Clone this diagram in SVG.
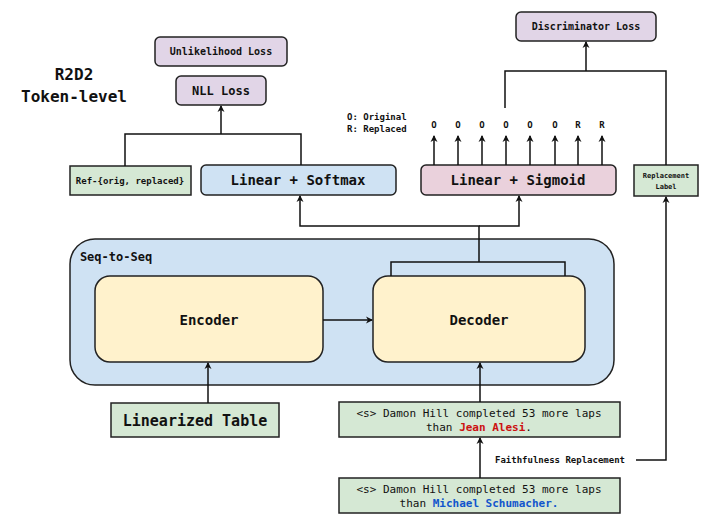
<svg xmlns="http://www.w3.org/2000/svg" width="714" height="526" viewBox="0 0 714 526">
<style>
text{font-family:"DejaVu Sans Mono","Liberation Mono",monospace;font-weight:bold;fill:#111;text-anchor:middle}
.p{fill:#e1d5e7;stroke:#222;stroke-width:1.5}
.g{fill:#d5e8d4;stroke:#222;stroke-width:1.5}
.b{fill:#cfe2f3;stroke:#222;stroke-width:1.5}
.y{fill:#fff2cc;stroke:#222;stroke-width:1.5}
.r{fill:#ead1dc;stroke:#222;stroke-width:1.5}
.l{fill:none;stroke:#111;stroke-width:1.5}
.n{font-weight:normal}
</style>
<defs><marker id="a" markerWidth="8" markerHeight="8" refX="6" refY="4" orient="auto" markerUnits="userSpaceOnUse"><path d="M0,0.5 L7,4 L0,7.5 L2,4z" fill="#111"/></marker></defs>
<rect width="714" height="526" fill="#fff"/>
<text x="74" y="80" font-size="16">R2D2</text>
<text x="74" y="102" font-size="16">Token-level</text>
<g id="seq"><rect class="b" x="70" y="239" width="544" height="146" rx="25"/><text x="116" y="261" font-size="12">Seq-to-Seq</text></g>
<g id="enc"><rect class="y" x="95" y="276" width="228" height="86" rx="15"/><text x="209" y="325" font-size="14">Encoder</text></g>
<g id="dec"><rect class="y" x="373" y="276" width="212" height="86" rx="15"/><text x="479" y="325" font-size="14">Decoder</text></g>
<g id="ul"><rect class="p" x="155" y="37" width="132" height="29" rx="5"/><text x="221" y="55" font-size="10">Unlikelihood Loss</text></g>
<g id="nll"><rect class="p" x="176" y="76" width="90" height="29" rx="5"/><text x="221" y="95" font-size="12">NLL Loss</text></g>
<g id="ref"><rect class="g" x="70" y="166" width="121" height="29"/><text x="130" y="184" font-size="9">Ref-{orig, replaced}</text></g>
<g id="soft"><rect class="b" x="201" y="165" width="195" height="30" rx="5"/><text x="298" y="185" font-size="14">Linear + Softmax</text></g>
<g id="sig"><rect class="r" x="421" y="165" width="195" height="30" rx="5"/><text x="518" y="185" font-size="14">Linear + Sigmoid</text></g>
<g id="disc"><rect class="p" x="516" y="12" width="140" height="29" rx="5"/><text x="586" y="30" font-size="10">Discriminator Loss</text></g>
<g id="rl"><rect class="g" x="634" y="165" width="64" height="31"/><text x="666" y="178" font-size="7">Replacement</text><text x="666" y="189" font-size="7">Label</text></g>
<g id="lt"><rect class="g" x="111" y="403" width="168" height="34"/><text x="195" y="426" font-size="15">Linearized Table</text></g>
<g id="s1"><rect class="g" x="339" y="402" width="281" height="35"/><text class="n" x="479" y="417" font-size="11">&lt;s&gt; Damon Hill completed 53 more laps</text><text class="n" x="479" y="431" font-size="11">than <tspan style="fill:#cc1111;font-weight:bold">Jean Alesi</tspan>.</text></g>
<g id="s2"><rect class="g" x="339" y="478" width="281" height="35"/><text class="n" x="479" y="493" font-size="11">&lt;s&gt; Damon Hill completed 53 more laps</text><text class="n" x="479" y="507" font-size="11">than <tspan style="fill:#1155cc;font-weight:bold">Michael Schumacher.</tspan></text></g>
<g id="legend" font-size="9"><text x="347" y="120" style="text-anchor:start;font-size:9px">O: Original</text><text x="347" y="132" style="text-anchor:start;font-size:9px">R: Replaced</text>
<text x="434" y="128" font-size="9">O</text><text x="458" y="128" font-size="9">O</text><text x="482" y="128" font-size="9">O</text><text x="506" y="128" font-size="9">O</text><text x="530" y="128" font-size="9">O</text><text x="555" y="128" font-size="9">O</text><text x="578" y="128" font-size="9">R</text><text x="602" y="128" font-size="9">R</text></g>
<text x="560" y="463" font-size="9">Faithfulness Replacement</text>
<g id="connectors">
<path class="l" d="M125,166 V134 H301 V165"/>
<path class="l" d="M221,134 V106" marker-end="url(#a)"/>
<path class="l" d="M479,262 V226 H300 V196" marker-end="url(#a)"/>
<path class="l" d="M479,226 H519 V196" marker-end="url(#a)"/>
<path class="l" d="M391,276 V262 H565 V276"/>
<path class="l" d="M434,165 V136" marker-end="url(#a)"/>
<path class="l" d="M458,165 V136" marker-end="url(#a)"/>
<path class="l" d="M482,165 V136" marker-end="url(#a)"/>
<path class="l" d="M506,165 V136" marker-end="url(#a)"/>
<path class="l" d="M530,165 V136" marker-end="url(#a)"/>
<path class="l" d="M555,165 V136" marker-end="url(#a)"/>
<path class="l" d="M578,165 V136" marker-end="url(#a)"/>
<path class="l" d="M602,165 V136" marker-end="url(#a)"/>
<path class="l" d="M505,108 V71 H666 V165"/>
<path class="l" d="M586,71 V42" marker-end="url(#a)"/>
<path class="l" d="M636,460 H666 V197" marker-end="url(#a)"/>
<path class="l" d="M323,320 H372" marker-end="url(#a)"/>
<path class="l" d="M208,403 V363" marker-end="url(#a)"/>
<path class="l" d="M480,402 V363" marker-end="url(#a)"/>
<path class="l" d="M480,478 V438" marker-end="url(#a)"/>
</g>
</svg>
